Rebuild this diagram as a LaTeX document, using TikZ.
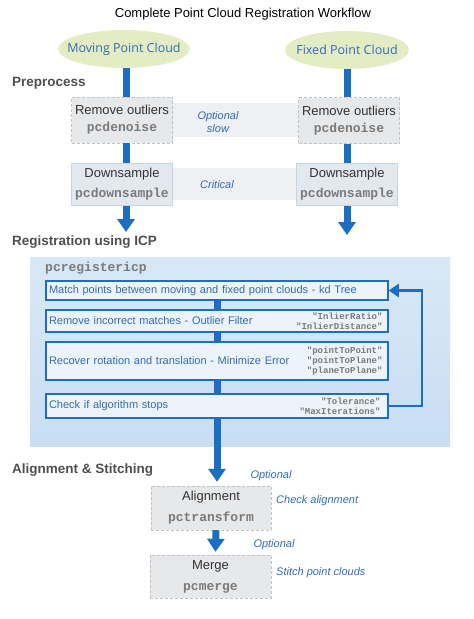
\documentclass[tikz,border=0pt]{standalone}
\usepackage{fontspec}
\setmainfont{Liberation Sans}
\setmonofont{Liberation Mono}
\newfontfamily\cloudfont{Open Sans}
\usetikzlibrary{positioning,shapes.geometric,arrows.meta}

\definecolor{flowblue}{HTML}{1B6EC2}
\definecolor{labelblue}{HTML}{2F6DB5}
\definecolor{cloudgreen}{HTML}{E4ECC4}
\definecolor{boxgray}{HTML}{E7E8EA}
\definecolor{boxline}{HTML}{BFC4CA}
\definecolor{dsfill}{HTML}{E3E8EE}
\definecolor{dsline}{HTML}{C3D5E6}
\definecolor{bandgray}{HTML}{EEF0F3}
\definecolor{icpblue}{HTML}{C8DEF3}
\definecolor{stepfill}{HTML}{EDF3FA}
\definecolor{headgray}{HTML}{4F4F4F}
\definecolor{codegray}{HTML}{7A7A7A}

\begin{document}
\begin{tikzpicture}[x=1pt, y=1pt,
    cloud/.style={
        ellipse, fill=cloudgreen, text=labelblue,
        font=\cloudfont\fontsize{12.5}{14}\selectfont,
        inner xsep=-14pt, inner ysep=1pt,
        minimum width=132pt, minimum height=38pt
    },
    head/.style={
        anchor=west, inner sep=0pt, text=headgray,
        font=\bfseries\fontsize{13.5}{15}\selectfont
    },
    optbox/.style={
        rectangle, draw=boxline, fill=boxgray, dash pattern=on 3pt off 2pt,
        minimum width=101pt, minimum height=46pt, align=center,
        text=black!80, font=\fontsize{13}{17}\selectfont
    },
    dsbox/.style={
        rectangle, draw=dsline, fill=dsfill, line width=1pt,
        minimum width=101pt, minimum height=42pt, align=center,
        text=black!80, font=\fontsize{13}{17}\selectfont
    },
    band/.style={rectangle, fill=bandgray, inner sep=0pt},
    note/.style={
        text=labelblue, align=center, inner sep=0pt,
        font=\itshape\fontsize{11}{12.5}\selectfont
    },
    stepbox/.style={
        rectangle, draw=flowblue, line width=1.5pt, fill=stepfill,
        text=labelblue, font=\fontsize{11}{13}\selectfont,
        inner xsep=3pt, text width=336pt, align=left
    },
    param/.style={
        inner sep=0pt, align=right, text=codegray,
        font=\ttfamily\bfseries\fontsize{9}{10}\selectfont
    },
    bar/.style={flowblue, line width=7pt},
    arr/.style={bar, -{Triangle[width=17pt, length=13pt]}},
    backarr/.style={flowblue, line width=2.5pt, -{Triangle[width=13pt, length=10pt]}}
]
\useasboundingbox (0,0) rectangle (474,-619);

% --- Title ---
\node[font=\fontsize{13}{15}\selectfont] (title) at (243,-14)
    {Complete Point Cloud Registration Workflow};

% --- Inputs ---
\node[cloud] (moving) at (124,-49) {Moving Point Cloud};
\node[cloud, minimum width=124pt] (fixed) at (347,-50) {Fixed Point Cloud};

% --- Preprocess ---
\node[head] (pre) at (12,-83) {Preprocess};

\node[band, minimum width=127pt, minimum height=34pt] (slowband) at (235.5,-120) {};
\node[band, minimum width=123pt, minimum height=32pt] (critband) at (234.5,-184) {};
\node[note] (slow) at (218,-122) {Optional\\slow};
\node[note] (crit) at (217,-185) {Critical};

\node[optbox] (denL) at (122,-120) {Remove outliers\\
    {\ttfamily\bfseries\color{codegray}pcdenoise}};
\node[optbox] (denR) at (349,-120.5) {Remove outliers\\
    {\ttfamily\bfseries\color{codegray}pcdenoise}};
\node[dsbox] (dsL) at (122,-184) {Downsample\\[3pt]
    {\ttfamily\bfseries\color{codegray}pcdownsample}};
\node[dsbox] (dsR) at (347,-184) {Downsample\\[3pt]
    {\ttfamily\bfseries\color{codegray}pcdownsample}};

\coordinate (regL) at (126,-232);
\coordinate (regR) at (347,-235);

\draw[bar] ([xshift=2pt]moving.south) -- ([xshift=4pt]denL.north);
\draw[bar] ([xshift=4pt]denL.south) -- ([xshift=4pt]dsL.north);
\draw[arr] ([xshift=4pt]dsL.south) -- (regL);
\draw[bar] (fixed.south) -- ([xshift=-2pt]denR.north);
\draw[bar] ([xshift=-2pt]denR.south) -- (dsR.north);
\draw[arr] (dsR.south) -- (regR);

% --- Registration using ICP ---
\node[head] (reg) at (12,-242) {Registration using ICP};

\node[rectangle, top color=icpblue!70!white, bottom color=icpblue,
      minimum width=420pt, minimum height=189pt] (icp) at (240,-351.5) {};
\node[anchor=west, inner sep=0pt, text=codegray,
      font=\ttfamily\bfseries\fontsize{13}{15}\selectfont] (icpname) at (45,-268) {pcregistericp};

\node[stepbox, minimum height=19pt] (match) at (217,-290.5)
    {Match points between moving and fixed point clouds - kd Tree};
\node[stepbox, minimum height=22pt] (outlier) at (217,-321)
    {Remove incorrect matches - Outlier Filter};
\node[stepbox, minimum height=38pt] (minerr) at (217,-361)
    {Recover rotation and translation - Minimize Error};
\node[stepbox, minimum height=24pt] (stop) at (217,-406)
    {Check if algorithm stops};

\node[param, anchor=east] (p1) at ([xshift=-6pt]outlier.east)
    {"InlierRatio"\\"InlierDistance"};
\node[param, anchor=east] (p2) at ([xshift=-6pt]minerr.east)
    {"pointToPoint"\\"pointToPlane"\\"planeToPlane"};
\node[param, anchor=east] (p3) at ([xshift=-8pt]stop.east)
    {"Tolerance"\\"MaxIterations"};

\coordinate (loop) at (422,-350);

\draw[bar] (match.south) -- (outlier.north);
\draw[bar] (outlier.south) -- (minerr.north);
\draw[bar] (minerr.south) -- (stop.north);
\draw[backarr] (stop.east) -| (loop) |- (match.east);

% --- Alignment & Stitching ---
\node[head] (stitch) at (12,-470) {Alignment \& Stitching};

\node[optbox, minimum width=120pt, minimum height=44pt] (align) at (211,-508)
    {Alignment\\[4pt]{\ttfamily\bfseries\color{codegray}pctransform}};
\node[optbox, minimum width=121pt, minimum height=43pt] (merge) at (210.5,-576.5)
    {Merge\\[4pt]{\ttfamily\bfseries\color{codegray}pcmerge}};

\draw[arr] (stop.south) -- ([yshift=4pt]stop.south |- align.north);
\draw[arr] ([xshift=5pt]align.south) -- ([xshift=5pt,yshift=3pt]merge.north);

\node[note] (opt1) at (271,-476) {Optional};
\node[note] (opt2) at (274,-545) {Optional};
\node[note, anchor=west] (check) at (276,-501) {Check alignment};
\node[note, anchor=west] (stitchtxt) at (276,-573) {Stitch point clouds};

\end{tikzpicture}
\end{document}
